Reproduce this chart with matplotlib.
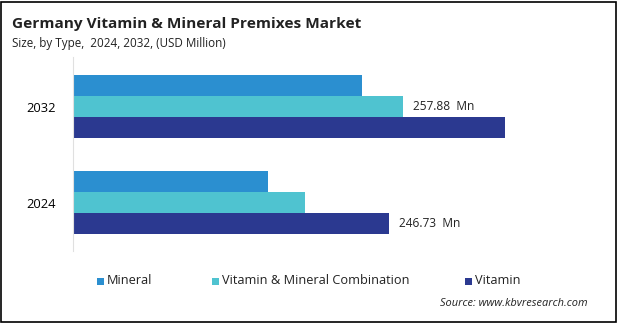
import matplotlib
matplotlib.use("Agg")
import matplotlib.pyplot as plt
from matplotlib.patches import Rectangle

plt.rcParams["font.family"] = ["Open Sans", "DejaVu Sans"]

years = ["2024", "2032"]
series = ["Mineral", "Vitamin & Mineral Combination", "Vitamin"]
mineral = [152.2, 225.6]
combination = [181.3, 257.88]
vitamin = [246.73, 337.5]
colors = ["#2b8fd0", "#4fc3d0", "#2b3990"]

W, H = 618, 323
fig = plt.figure(figsize=(W / 100, H / 100), dpi=100)
ax = fig.add_axes([72.7 / W, 1 - 251 / H, (600 - 72.7) / W, (251 - 57) / H])

bh = 0.219
offsets = [bh, 0, -bh]
for vals, off, c in zip([mineral, combination, vitamin], offsets, colors):
    ax.barh([i + off for i in range(len(years))], vals, height=bh, color=c, linewidth=0)

# value labels on the combination bar for 2032 and the vitamin bar for 2024
ax.text(combination[1] + 8, 1, f"{combination[1]:.2f}  Mn", va="center", ha="left",
        fontsize=8.6, color="#222222")
ax.text(vitamin[0] + 8, -bh, f"{vitamin[0]:.2f}  Mn", va="center", ha="left",
        fontsize=8.6, color="#222222")

ax.set_xlim(0, (600 - 72.7) / 1.281)
ax.set_ylim(-0.505, 1.516)
ax.set_yticks(range(len(years)))
ax.set_yticklabels(years, fontsize=9.3)
ax.tick_params(axis="y", length=0, pad=12)
ax.set_xticks([])
for s in ("top", "right", "bottom"):
    ax.spines[s].set_visible(False)
ax.spines["left"].set_color("#e0e0e0")
ax.spines["left"].set_linewidth(0.8)

fig.text(12 / W, 1 - 24 / H, "Germany Vitamin & Mineral Premixes Market", fontsize=11.1,
         fontweight="bold", color="#222222", va="center", ha="left")
fig.text(12 / W, 1 - 43 / H, "Size, by Type,  2024, 2032, (USD Million)", fontsize=8.4,
         color="#222222", va="center", ha="left")

# legend drawn by hand
leg_x = [97, 212, 465]
for x, name, c in zip(leg_x, series, colors):
    fig.patches.append(Rectangle((x / W, 1 - 285 / H), 7 / W, 7 / H,
                                 transform=fig.transFigure, color=c, linewidth=0))
    fig.text((x + 10) / W, 1 - 281 / H, name, fontsize=9.2, color="#222222",
             va="center", ha="left")

fig.text(588 / W, 1 - 304 / H, "Source: www.kbvresearch.com", fontsize=7.9,
         style="italic", color="#222222", va="center", ha="right")

# thin frame round the figure
fig.patches.append(Rectangle((0.5 / W, 1.5 / H), 615.5 / W, 320 / H, transform=fig.transFigure,
                             fill=False, edgecolor="black", linewidth=1.2))

fig.savefig("out.png", dpi=100)
